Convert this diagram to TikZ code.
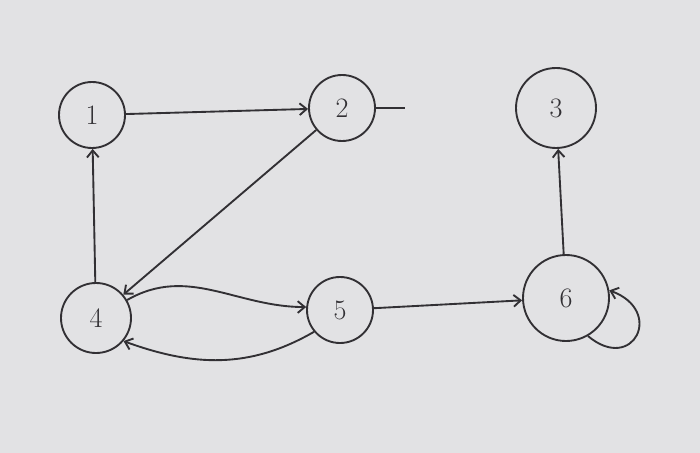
\documentclass[tikz,border=0pt]{standalone}
\usetikzlibrary{arrows.meta}
\definecolor{bg}{RGB}{226,226,228}
\definecolor{ink}{RGB}{50,48,52}
\begin{document}
\begin{tikzpicture}[x=0.03cm,y=-0.03cm,
  vert/.style={circle,draw=ink,line width=1.6pt,inner sep=0pt,font=\fontsize{24}{24}\selectfont,text=ink},
  edge/.style={draw=ink,line width=1.6pt,-{Straight Barb[length=6pt,width=10pt]}}]
\fill[bg] (0,0) rectangle (700,453);
\node[vert,minimum size=66*0.03cm] (n1) at (92,115) {1};
\node[vert,minimum size=66*0.03cm] (n2) at (342,108) {2};
\node[vert,minimum size=80*0.03cm] (n3) at (556,108) {3};
\node[vert,minimum size=70*0.03cm] (n4) at (96,318) {4};
\node[vert,minimum size=66*0.03cm] (n5) at (340,310) {5};
\node[vert,minimum size=86*0.03cm] (n6) at (566,298) {6};
\coordinate (stub) at (405,108);
\draw[draw=ink,line width=1.6pt] (n2.east) -- (stub);
\draw[edge] (n1) -- (n2);
\draw[edge] (n2) -- (n4);
\draw[edge] (n4) -- (n1);
\draw[edge] (n4.30) to[out=30,in=180] (n5.175);
\draw[edge] (n5.220) to[out=210,in=-20] (n4.-40);
\draw[edge] (n5) -- (n6);
\draw[edge] (n6) -- (n3);
\draw[edge] (n6.-60) to[out=-40,in=-20,looseness=3] (n6.10);
\end{tikzpicture}
\end{document}
